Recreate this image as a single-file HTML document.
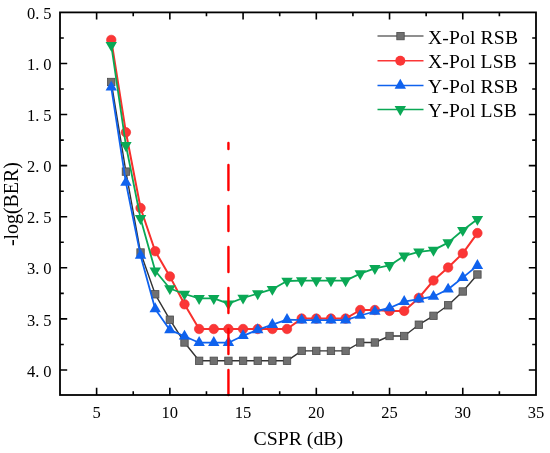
<!DOCTYPE html><html><head><meta charset="utf-8"><style>html,body{margin:0;padding:0;background:#fff;overflow:hidden}svg{display:block}text{font-family:"Liberation Serif","Times New Roman",serif;fill:#000;font-kerning:none}</style></head><body>
<svg width="550" height="453" viewBox="0 0 550 453">
<rect width="550" height="453" fill="#fff"/>
<g><polyline points="111.26,82.00 125.91,171.60 140.55,252.50 155.20,294.30 169.85,319.70 184.49,342.50 199.14,360.80 213.78,360.80 228.43,360.80 243.08,360.80 257.72,360.80 272.37,360.80 287.02,360.80 301.66,350.90 316.31,350.90 330.95,350.90 345.60,350.90 360.25,342.50 374.89,342.50 389.54,336.00 404.18,336.00 418.83,324.70 433.48,315.80 448.12,305.30 462.77,291.50 477.42,274.50" fill="none" stroke="#333333" stroke-width="1.4" stroke-linejoin="round"/><g fill="#707070" stroke="#4a4a4a" stroke-width="0.8"><rect x="107.56" y="78.30" width="7.4" height="7.4"/><rect x="122.21" y="167.90" width="7.4" height="7.4"/><rect x="136.85" y="248.80" width="7.4" height="7.4"/><rect x="151.50" y="290.60" width="7.4" height="7.4"/><rect x="166.15" y="316.00" width="7.4" height="7.4"/><rect x="180.79" y="338.80" width="7.4" height="7.4"/><rect x="195.44" y="357.10" width="7.4" height="7.4"/><rect x="210.08" y="357.10" width="7.4" height="7.4"/><rect x="224.73" y="357.10" width="7.4" height="7.4"/><rect x="239.38" y="357.10" width="7.4" height="7.4"/><rect x="254.02" y="357.10" width="7.4" height="7.4"/><rect x="268.67" y="357.10" width="7.4" height="7.4"/><rect x="283.32" y="357.10" width="7.4" height="7.4"/><rect x="297.96" y="347.20" width="7.4" height="7.4"/><rect x="312.61" y="347.20" width="7.4" height="7.4"/><rect x="327.25" y="347.20" width="7.4" height="7.4"/><rect x="341.90" y="347.20" width="7.4" height="7.4"/><rect x="356.55" y="338.80" width="7.4" height="7.4"/><rect x="371.19" y="338.80" width="7.4" height="7.4"/><rect x="385.84" y="332.30" width="7.4" height="7.4"/><rect x="400.48" y="332.30" width="7.4" height="7.4"/><rect x="415.13" y="321.00" width="7.4" height="7.4"/><rect x="429.78" y="312.10" width="7.4" height="7.4"/><rect x="444.42" y="301.60" width="7.4" height="7.4"/><rect x="459.07" y="287.80" width="7.4" height="7.4"/><rect x="473.72" y="270.80" width="7.4" height="7.4"/></g></g>
<g><polyline points="111.26,39.90 125.91,132.30 140.55,208.00 155.20,251.20 169.85,276.40 184.49,304.30 199.14,329.00 213.78,329.00 228.43,329.00 243.08,329.00 257.72,329.00 272.37,329.00 287.02,329.00 301.66,318.60 316.31,318.60 330.95,318.60 345.60,318.60 360.25,310.00 374.89,310.00 389.54,310.90 404.18,310.90 418.83,297.90 433.48,280.50 448.12,267.50 462.77,253.40 477.42,233.10" fill="none" stroke="#f8302c" stroke-width="2.0" stroke-linejoin="round"/><g fill="#fb3636" stroke="#f02a2a" stroke-width="0.6"><circle cx="111.26" cy="39.90" r="4.75"/><circle cx="125.91" cy="132.30" r="4.75"/><circle cx="140.55" cy="208.00" r="4.75"/><circle cx="155.20" cy="251.20" r="4.75"/><circle cx="169.85" cy="276.40" r="4.75"/><circle cx="184.49" cy="304.30" r="4.75"/><circle cx="199.14" cy="329.00" r="4.75"/><circle cx="213.78" cy="329.00" r="4.75"/><circle cx="228.43" cy="329.00" r="4.75"/><circle cx="243.08" cy="329.00" r="4.75"/><circle cx="257.72" cy="329.00" r="4.75"/><circle cx="272.37" cy="329.00" r="4.75"/><circle cx="287.02" cy="329.00" r="4.75"/><circle cx="301.66" cy="318.60" r="4.75"/><circle cx="316.31" cy="318.60" r="4.75"/><circle cx="330.95" cy="318.60" r="4.75"/><circle cx="345.60" cy="318.60" r="4.75"/><circle cx="360.25" cy="310.00" r="4.75"/><circle cx="374.89" cy="310.00" r="4.75"/><circle cx="389.54" cy="310.90" r="4.75"/><circle cx="404.18" cy="310.90" r="4.75"/><circle cx="418.83" cy="297.90" r="4.75"/><circle cx="433.48" cy="280.50" r="4.75"/><circle cx="448.12" cy="267.50" r="4.75"/><circle cx="462.77" cy="253.40" r="4.75"/><circle cx="477.42" cy="233.10" r="4.75"/></g></g>
<g><polyline points="111.26,87.30 125.91,182.50 140.55,255.40 155.20,308.90 169.85,329.90 184.49,336.30 199.14,342.70 213.78,342.70 228.43,342.70 243.08,335.80 257.72,329.90 272.37,324.60 287.02,319.70 301.66,320.20 316.31,320.20 330.95,320.20 345.60,320.20 360.25,315.50 374.89,311.50 389.54,308.00 404.18,301.60 418.83,299.10 433.48,296.50 448.12,289.30 462.77,277.60 477.42,265.60" fill="none" stroke="#0f62ee" stroke-width="1.8" stroke-linejoin="round"/><g fill="#0f62ee"><path d="M111.26 80.72L116.96 90.59L105.56 90.59Z"/><path d="M125.91 175.92L131.61 185.79L120.21 185.79Z"/><path d="M140.55 248.82L146.25 258.69L134.85 258.69Z"/><path d="M155.20 302.32L160.90 312.19L149.50 312.19Z"/><path d="M169.85 323.32L175.55 333.19L164.15 333.19Z"/><path d="M184.49 329.72L190.19 339.59L178.79 339.59Z"/><path d="M199.14 336.12L204.84 345.99L193.44 345.99Z"/><path d="M213.78 336.12L219.48 345.99L208.08 345.99Z"/><path d="M228.43 336.12L234.13 345.99L222.73 345.99Z"/><path d="M243.08 329.22L248.78 339.09L237.38 339.09Z"/><path d="M257.72 323.32L263.42 333.19L252.02 333.19Z"/><path d="M272.37 318.02L278.07 327.89L266.67 327.89Z"/><path d="M287.02 313.12L292.72 322.99L281.32 322.99Z"/><path d="M301.66 313.62L307.36 323.49L295.96 323.49Z"/><path d="M316.31 313.62L322.01 323.49L310.61 323.49Z"/><path d="M330.95 313.62L336.65 323.49L325.25 323.49Z"/><path d="M345.60 313.62L351.30 323.49L339.90 323.49Z"/><path d="M360.25 308.92L365.95 318.79L354.55 318.79Z"/><path d="M374.89 304.92L380.59 314.79L369.19 314.79Z"/><path d="M389.54 301.42L395.24 311.29L383.84 311.29Z"/><path d="M404.18 295.02L409.88 304.89L398.48 304.89Z"/><path d="M418.83 292.52L424.53 302.39L413.13 302.39Z"/><path d="M433.48 289.92L439.18 299.79L427.78 299.79Z"/><path d="M448.12 282.72L453.82 292.59L442.42 292.59Z"/><path d="M462.77 271.02L468.47 280.89L457.07 280.89Z"/><path d="M477.42 259.02L483.12 268.89L471.72 268.89Z"/></g></g>
<g><polyline points="111.26,45.20 125.91,145.30 140.55,218.40 155.20,270.80 169.85,288.50 184.49,294.00 199.14,298.30 213.78,298.30 228.43,303.70 243.08,298.00 257.72,293.60 272.37,289.20 287.02,281.00 301.66,280.60 316.31,280.60 330.95,280.60 345.60,280.60 360.25,273.60 374.89,268.30 389.54,265.40 404.18,255.90 418.83,251.90 433.48,250.10 448.12,242.60 462.77,230.20 477.42,219.20" fill="none" stroke="#0aa855" stroke-width="1.8" stroke-linejoin="round"/><g fill="#0aa855"><path d="M111.26 51.78L116.96 41.91L105.56 41.91Z"/><path d="M125.91 151.88L131.61 142.01L120.21 142.01Z"/><path d="M140.55 224.98L146.25 215.11L134.85 215.11Z"/><path d="M155.20 277.38L160.90 267.51L149.50 267.51Z"/><path d="M169.85 295.08L175.55 285.21L164.15 285.21Z"/><path d="M184.49 300.58L190.19 290.71L178.79 290.71Z"/><path d="M199.14 304.88L204.84 295.01L193.44 295.01Z"/><path d="M213.78 304.88L219.48 295.01L208.08 295.01Z"/><path d="M228.43 310.28L234.13 300.41L222.73 300.41Z"/><path d="M243.08 304.58L248.78 294.71L237.38 294.71Z"/><path d="M257.72 300.18L263.42 290.31L252.02 290.31Z"/><path d="M272.37 295.78L278.07 285.91L266.67 285.91Z"/><path d="M287.02 287.58L292.72 277.71L281.32 277.71Z"/><path d="M301.66 287.18L307.36 277.31L295.96 277.31Z"/><path d="M316.31 287.18L322.01 277.31L310.61 277.31Z"/><path d="M330.95 287.18L336.65 277.31L325.25 277.31Z"/><path d="M345.60 287.18L351.30 277.31L339.90 277.31Z"/><path d="M360.25 280.18L365.95 270.31L354.55 270.31Z"/><path d="M374.89 274.88L380.59 265.01L369.19 265.01Z"/><path d="M389.54 271.98L395.24 262.11L383.84 262.11Z"/><path d="M404.18 262.48L409.88 252.61L398.48 252.61Z"/><path d="M418.83 258.48L424.53 248.61L413.13 248.61Z"/><path d="M433.48 256.68L439.18 246.81L427.78 246.81Z"/><path d="M448.12 249.18L453.82 239.31L442.42 239.31Z"/><path d="M462.77 236.78L468.47 226.91L457.07 226.91Z"/><path d="M477.42 225.78L483.12 215.91L471.72 215.91Z"/></g></g>
<line x1="228.43" y1="395" x2="228.43" y2="143" stroke="#ff0000" stroke-width="2.4" stroke-dasharray="25 16" stroke-linecap="round"/>
<rect x="60.0" y="12.4" width="476.0" height="382.6" fill="none" stroke="#000" stroke-width="1.8"/>
<path d="M96.62 395.0v-7.2M96.62 12.4v7.2M133.23 395.0v-3.8M133.23 12.4v3.8M169.85 395.0v-7.2M169.85 12.4v7.2M206.46 395.0v-3.8M206.46 12.4v3.8M243.08 395.0v-7.2M243.08 12.4v7.2M279.69 395.0v-3.8M279.69 12.4v3.8M316.31 395.0v-7.2M316.31 12.4v7.2M352.92 395.0v-3.8M352.92 12.4v3.8M389.54 395.0v-7.2M389.54 12.4v7.2M426.15 395.0v-3.8M426.15 12.4v3.8M462.77 395.0v-7.2M462.77 12.4v7.2M499.38 395.0v-3.8M499.38 12.4v3.8M60.0 37.94h3.8M536.0 37.94h-3.8M60.0 63.48h7.2M536.0 63.48h-7.2M60.0 89.03h3.8M536.0 89.03h-3.8M60.0 114.57h7.2M536.0 114.57h-7.2M60.0 140.11h3.8M536.0 140.11h-3.8M60.0 165.66h7.2M536.0 165.66h-7.2M60.0 191.20h3.8M536.0 191.20h-3.8M60.0 216.74h7.2M536.0 216.74h-7.2M60.0 242.28h3.8M536.0 242.28h-3.8M60.0 267.82h7.2M536.0 267.82h-7.2M60.0 293.37h3.8M536.0 293.37h-3.8M60.0 318.91h7.2M536.0 318.91h-7.2M60.0 344.45h3.8M536.0 344.45h-3.8M60.0 370.00h7.2M536.0 370.00h-7.2" stroke="#000" stroke-width="1.6" fill="none"/>
<text x="96.62" y="418" font-size="16.5" text-anchor="middle">5</text>
<text x="169.85" y="418" font-size="16.5" text-anchor="middle">10</text>
<text x="243.08" y="418" font-size="16.5" text-anchor="middle">15</text>
<text x="316.31" y="418" font-size="16.5" text-anchor="middle">20</text>
<text x="389.54" y="418" font-size="16.5" text-anchor="middle">25</text>
<text x="462.77" y="418" font-size="16.5" text-anchor="middle">30</text>
<text x="536.00" y="418" font-size="16.5" text-anchor="middle">35</text>
<text x="51.5" y="19.00" font-size="16.5" text-anchor="end">0<tspan dx="0">.</tspan><tspan dx="4">5</tspan></text>
<text x="51.5" y="70.08" font-size="16.5" text-anchor="end">1<tspan dx="0">.</tspan><tspan dx="4">0</tspan></text>
<text x="51.5" y="121.17" font-size="16.5" text-anchor="end">1<tspan dx="0">.</tspan><tspan dx="4">5</tspan></text>
<text x="51.5" y="172.25" font-size="16.5" text-anchor="end">2<tspan dx="0">.</tspan><tspan dx="4">0</tspan></text>
<text x="51.5" y="223.34" font-size="16.5" text-anchor="end">2<tspan dx="0">.</tspan><tspan dx="4">5</tspan></text>
<text x="51.5" y="274.43" font-size="16.5" text-anchor="end">3<tspan dx="0">.</tspan><tspan dx="4">0</tspan></text>
<text x="51.5" y="325.51" font-size="16.5" text-anchor="end">3<tspan dx="0">.</tspan><tspan dx="4">5</tspan></text>
<text x="51.5" y="376.60" font-size="16.5" text-anchor="end">4<tspan dx="0">.</tspan><tspan dx="4">0</tspan></text>
<text x="298.3" y="445.2" font-size="19.8" text-anchor="middle">CSPR (dB)</text>
<text transform="translate(18.2 204.1) rotate(-90)" font-size="19.9" text-anchor="middle">-log(BER)</text>
<line x1="377.5" y1="36.1" x2="423.5" y2="36.1" stroke="#6a6a6a" stroke-width="1.5"/><g fill="#707070" stroke="#4a4a4a" stroke-width="0.8"><rect x="396.80" y="32.40" width="7.4" height="7.4"/></g>
<text x="428" y="43.50" font-size="19.6" letter-spacing="0.15">X-Pol RSB</text>
<line x1="377.5" y1="60.7" x2="423.5" y2="60.7" stroke="#fb3636" stroke-width="1.5"/><g fill="#fb3636"><circle cx="400.30" cy="60.70" r="5.0"/></g>
<text x="428" y="68.10" font-size="19.6" letter-spacing="0.15">X-Pol LSB</text>
<line x1="377.5" y1="85.4" x2="423.5" y2="85.4" stroke="#0f62ee" stroke-width="1.5"/><g fill="#0f62ee"><path d="M400.30 78.82L406.00 88.69L394.60 88.69Z"/></g>
<text x="428" y="92.80" font-size="19.6" letter-spacing="0.15">Y-Pol RSB</text>
<line x1="377.5" y1="109.4" x2="423.5" y2="109.4" stroke="#0aa855" stroke-width="1.5"/><g fill="#0aa855"><path d="M400.30 115.98L406.00 106.11L394.60 106.11Z"/></g>
<text x="428" y="116.80" font-size="19.6" letter-spacing="0.15">Y-Pol LSB</text>
</svg></body></html>
